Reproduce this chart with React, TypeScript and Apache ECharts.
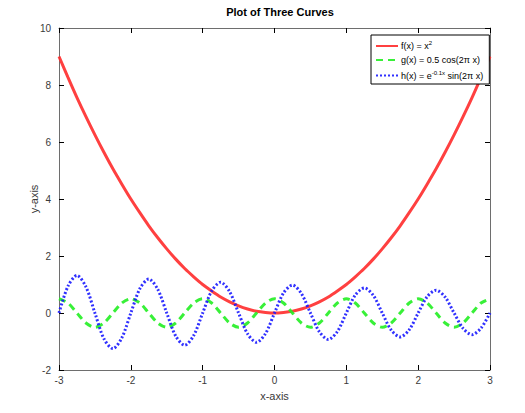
import React, { useEffect, useRef } from 'react';
import * as echarts from 'echarts';

// sample positions along x (step 0.125)
const xs: number[] = [
  -3, -2.875, -2.75, -2.625, -2.5, -2.375, -2.25, -2.125,
  -2, -1.875, -1.75, -1.625, -1.5, -1.375, -1.25, -1.125,
  -1, -0.875, -0.75, -0.625, -0.5, -0.375, -0.25, -0.125,
  0, 0.125, 0.25, 0.375, 0.5, 0.625, 0.75, 0.875,
  1, 1.125, 1.25, 1.375, 1.5, 1.625, 1.75, 1.875,
  2, 2.125, 2.25, 2.375, 2.5, 2.625, 2.75, 2.875, 3
];

// f(x) = x^2
const fValues: number[] = [
  9, 8.27, 7.56, 6.89, 6.25, 5.64, 5.06, 4.52,
  4, 3.52, 3.06, 2.64, 2.25, 1.89, 1.56, 1.27,
  1, 0.77, 0.56, 0.39, 0.25, 0.14, 0.06, 0.02,
  0, 0.02, 0.06, 0.14, 0.25, 0.39, 0.56, 0.77,
  1, 1.27, 1.56, 1.89, 2.25, 2.64, 3.06, 3.52,
  4, 4.52, 5.06, 5.64, 6.25, 6.89, 7.56, 8.27, 9
];

// g(x) = 0.5 cos(2πx)
const gValues: number[] = [
  0.5, 0.35, 0, -0.35, -0.5, -0.35, 0, 0.35,
  0.5, 0.35, 0, -0.35, -0.5, -0.35, 0, 0.35,
  0.5, 0.35, 0, -0.35, -0.5, -0.35, 0, 0.35,
  0.5, 0.35, 0, -0.35, -0.5, -0.35, 0, 0.35,
  0.5, 0.35, 0, -0.35, -0.5, -0.35, 0, 0.35,
  0.5, 0.35, 0, -0.35, -0.5, -0.35, 0, 0.35, 0.5
];

// h(x) = e^(-0.1x) sin(2πx)
const hValues: number[] = [
  0, 0.94, 1.32, 0.92, 0, -0.9, -1.25, -0.87,
  0, 0.85, 1.19, 0.83, 0, -0.81, -1.13, -0.79,
  0, 0.77, 1.08, 0.75, 0, -0.73, -1.03, -0.72,
  0, 0.7, 0.98, 0.68, 0, -0.66, -0.93, -0.65,
  0, 0.63, 0.88, 0.62, 0, -0.6, -0.84, -0.59,
  0, 0.57, 0.8, 0.56, 0, -0.54, -0.76, -0.53, 0
];

const seriesNames = ['f', 'g', 'h'];

const FONT = '"Liberation Sans", Arial, Helvetica, sans-serif';
const AXIS_COLOR = '#6e6e6e';
const LABEL_COLOR = '#3a3a3a';

const pairs = (vals: number[]) => xs.map((x, i) => [x, vals[i]]);

const App: React.FC = () => {
  const chartRef = useRef<HTMLDivElement>(null);

  useEffect(() => {
    document.body.style.margin = '0';
    if (!chartRef.current) return;
    const chart = echarts.init(chartRef.current, undefined, { renderer: 'svg' });

    const axisBase = {
      type: 'value' as const,
      axisLine: { show: true, onZero: false, lineStyle: { color: AXIS_COLOR, width: 1 } },
      axisTick: { show: true, inside: true, length: 5, lineStyle: { color: '#000' } },
      splitLine: { show: false },
    };

    const options: any = {
      animation: false,
      backgroundColor: '#fff',
      textStyle: { fontFamily: FONT },
      title: {
        text: 'Plot of Three Curves',
        left: 275,
        textAlign: 'center',
        top: 1,
        textStyle: { fontSize: 11, fontWeight: 'bold', color: '#000', fontFamily: FONT },
      },
      grid: { left: 59, right: 35, top: 28, bottom: 43, containLabel: false },
      xAxis: [
        {
          ...axisBase,
          min: -3,
          max: 3,
          interval: 1,
          position: 'bottom',
          name: 'x-axis',
          nameLocation: 'middle',
          nameGap: 20,
          nameMoveOverlap: false,
          nameTextStyle: { fontSize: 11, color: LABEL_COLOR, fontFamily: FONT },
          axisLabel: { fontSize: 10, color: LABEL_COLOR, margin: 5, fontFamily: FONT },
        },
        {
          ...axisBase,
          min: -3,
          max: 3,
          interval: 1,
          position: 'top',
          axisLabel: { show: false },
        },
      ],
      yAxis: [
        {
          ...axisBase,
          min: -2,
          max: 10,
          interval: 2,
          position: 'left',
          name: 'y-axis',
          nameLocation: 'middle',
          nameGap: 20,
          nameMoveOverlap: false,
          nameTextStyle: { fontSize: 11, color: LABEL_COLOR, fontFamily: FONT },
          axisLabel: { fontSize: 10, color: LABEL_COLOR, margin: 8, fontFamily: FONT },
        },
        {
          ...axisBase,
          min: -2,
          max: 10,
          interval: 2,
          position: 'right',
          axisLabel: { show: false },
        },
      ],
      legend: {
        orient: 'vertical',
        left: 371,
        top: 35,
        padding: [5, 6, 4, 4],
        itemGap: 5,
        itemWidth: 22,
        itemHeight: 10,
        borderColor: '#000',
        borderWidth: 1,
        backgroundColor: '#fff',
        data: seriesNames,
        itemStyle: { opacity: 0 },
        formatter: (name: string) => {
          if (name === 'f') return 'f(x) = x{sup|2}';
          if (name === 'g') return 'g(x) = 0.5 cos(2π x)';
          return 'h(x) = e{sup|-0.1x} sin(2π x)';
        },
        textStyle: {
          fontSize: 9,
          color: '#000',
          fontFamily: FONT,
          padding: [0, 0, 0, -2],
          rich: {
            sup: { fontSize: 6, verticalAlign: 'top', padding: [0, 0, 6, 0], fontFamily: FONT },
          },
        },
      },
      series: [
        {
          name: 'f',
          type: 'line',
          data: pairs(fValues),
          smooth: 0.3,
          symbol: 'none',
          lineStyle: { color: '#ff2b2b', width: 3, opacity: 0.9 },
          itemStyle: { color: '#ff2b2b' },
        },
        {
          name: 'g',
          type: 'line',
          data: pairs(gValues),
          smooth: 0.3,
          symbol: 'none',
          lineStyle: { color: '#22ee22', width: 3, type: [7, 5], opacity: 0.9 },
          itemStyle: { color: '#22ee22' },
        },
        {
          name: 'h',
          type: 'line',
          data: pairs(hValues),
          smooth: 0.3,
          symbol: 'none',
          lineStyle: { color: '#1a1aff', width: 3, type: [2, 2], opacity: 0.9 },
          itemStyle: { color: '#1a1aff' },
        },
      ],
    };

    chart.setOption(options);
    return () => {
      chart.dispose();
    };
  }, []);

  return <div ref={chartRef} style={{ width: 525, height: 413 }} />;
};

export default App;
